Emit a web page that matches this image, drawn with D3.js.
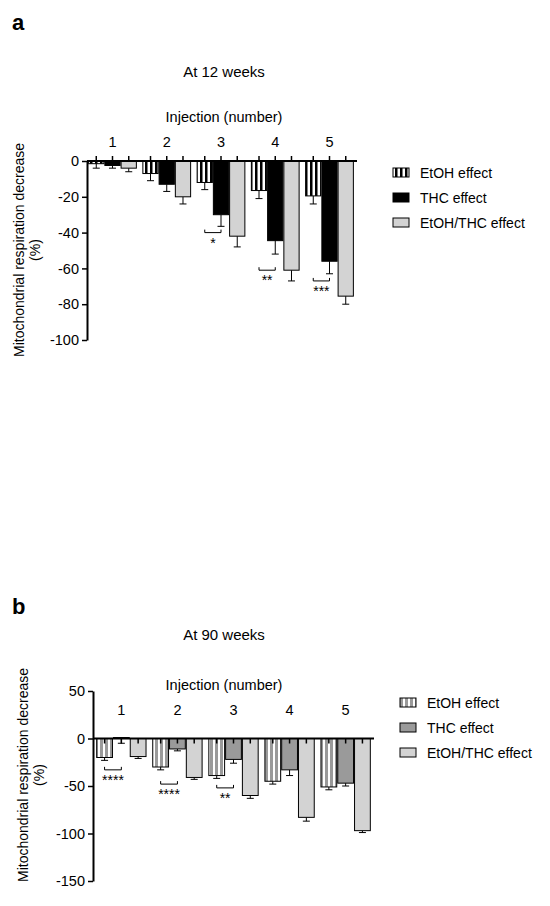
<!DOCTYPE html><html><head><meta charset="utf-8"><script src="https://cdn.jsdelivr.net/npm/d3@7"></script>
<style>body{margin:0;background:#fff}text{font-family:Arial,"Liberation Sans",sans-serif}</style></head><body>
<script>
const injections=["1","2","3","4","5"];
const seriesNames=["EtOH effect","THC effect","EtOH/THC effect"];
const a_etoh=[-1.5,-7,-12,-16.5,-19.5], a_etohErr=[-4,-11,-16,-21,-24];
const a_thc=[-2.5,-13,-30,-44.5,-56], a_thcErr=[-4,-17,-36.5,-52,-63];
const a_combo=[-4,-20,-42,-61,-75.5], a_comboErr=[-6,-24,-48,-67,-80];
const a_yTicks=[0,-20,-40,-60,-80,-100];
const a_sig=[{g:2,label:"*",y:-40},{g:3,label:"**",y:-61},{g:4,label:"***",y:-67}];
const b_etoh=[-20,-30,-39,-45,-51], b_etohErr=[-23,-33,-42,-48,-54];
const b_thc=[1,-11,-22,-33,-47], b_thcErr=[-5,-13,-26,-39,-50];
const b_combo=[-19,-41,-60,-83,-97], b_comboErr=[-21,-43,-63,-87,-99];
const b_yTicks=[50,0,-50,-100,-150];
const b_sig=[{g:0,label:"****",y:-33},{g:1,label:"****",y:-48},{g:2,label:"**",y:-52}];

const svg=d3.select("body").append("svg").attr("width",550).attr("height",906);
const defs=svg.append("defs");
const p1=defs.append("pattern").attr("id","pA").attr("patternUnits","userSpaceOnUse").attr("width",5).attr("height",5);
p1.append("rect").attr("width",5).attr("height",5).attr("fill","#fff");
p1.append("rect").attr("width",2.5).attr("height",5).attr("fill","#000");
const p2=defs.append("pattern").attr("id","pB").attr("patternUnits","userSpaceOnUse").attr("width",5).attr("height",5);
p2.append("rect").attr("width",5).attr("height",5).attr("fill","#fff");
p2.append("rect").attr("width",3).attr("height",5).attr("fill","#9a9a9a");

function panel(o){
  const g=svg.append("g");
  g.append("text").attr("x",12).attr("y",o.letterY).attr("font-size",22).attr("font-weight","bold").text(o.letter);
  g.append("text").attr("x",o.cx).attr("y",o.titleY).attr("text-anchor","middle").attr("font-size",15).text(o.title);
  g.append("text").attr("x",o.cx).attr("y",o.injY).attr("text-anchor","middle").attr("font-size",14.5).text("Injection (number)");
  const y=d3.scaleLinear().domain(o.dom).range(o.rng);
  const xg=d3.scaleBand().domain(injections).range([o.x0,o.x1]).paddingInner(0.12).paddingOuter(0.03);
  const xs=d3.scaleBand().domain(d3.range(3)).range([0,xg.bandwidth()]).paddingInner(0.06);
  const ya=g.append("g").attr("transform",`translate(${o.ax},0)`).call(d3.axisLeft(y).tickValues(o.ticks).tickFormat(d=>String(d)).tickSize(5).tickSizeOuter(0));
  ya.select(".domain").attr("stroke-width",2);ya.selectAll(".tick line").attr("stroke-width",1.5);
  ya.selectAll("text").attr("font-size",14.5).attr("fill","#000").attr("font-family","Arial,'Liberation Sans',sans-serif");
  const yl=g.append("text").attr("transform",`translate(${o.ylx},${o.yly}) rotate(-90)`).attr("text-anchor","middle").attr("font-size",14);
  yl.append("tspan").attr("x",0).attr("dy",0).text("Mitochondrial respiration decrease");
  yl.append("tspan").attr("x",0).attr("dy",16).text("(%)");
  const vals=[o.v[0],o.v[1],o.v[2]], errs=[o.e[0],o.e[1],o.e[2]];
  injections.forEach((inj,i)=>{
    g.append("text").attr("x",xg(inj)+xg.bandwidth()/2).attr("y",o.numY).attr("text-anchor","middle").attr("font-size",14.5).text(inj);
    for(let s=0;s<3;s++){
      const v=vals[s][i],e=errs[s][i];
      const bx=xg(inj)+xs(s),bw=xs.bandwidth(),cx=bx+bw/2;
      g.append("line").attr("x1",cx).attr("x2",cx).attr("y1",y(Math.min(0,v))).attr("y2",y(e)).attr("stroke","#000").attr("stroke-width",1);
      g.append("line").attr("x1",cx-3.5).attr("x2",cx+3.5).attr("y1",y(e)).attr("y2",y(e)).attr("stroke","#000").attr("stroke-width",1);
      g.append("rect").attr("x",bx).attr("width",bw).attr("y",y(Math.max(0,v))).attr("height",Math.abs(y(v)-y(0)))
        .attr("fill",o.fills[s]).attr("stroke","#000").attr("stroke-width",1);
      g.append("line").attr("x1",cx).attr("x2",cx).attr("y1",y(0)).attr("y2",y(0)+o.tickDir*5).attr("stroke","#000").attr("stroke-width",1.5);
    }
  });
  g.append("line").attr("x1",o.ax).attr("x2",o.x1+2).attr("y1",y(0)).attr("y2",y(0)).attr("stroke","#000").attr("stroke-width",2);
  o.sig.forEach(sg=>{
    const inj=injections[sg.g];
    const xa=xg(inj)+xs(0)+xs.bandwidth()/2, xb=xg(inj)+xs(1)+xs.bandwidth()/2, yy=y(sg.y);
    g.append("path").attr("d",`M${xa},${yy-3}V${yy}H${xb}V${yy-3}`).attr("fill","none").attr("stroke","#000").attr("stroke-width",1);
    g.append("text").attr("x",(xa+xb)/2).attr("y",yy+15).attr("text-anchor","middle").attr("font-size",14).text(sg.label);
  });
  seriesNames.forEach((n,s)=>{
    const ly=o.legY+s*25;
    g.append("rect").attr("x",o.legX).attr("y",ly-5).attr("width",16).attr("height",9).attr("fill",o.fills[s]).attr("stroke","#000").attr("stroke-width",1);
    g.append("text").attr("x",o.legX+27).attr("y",ly+5).attr("font-size",14).text(n);
  });
}
panel({letter:"a",letterY:30,title:"At 12 weeks",titleY:77,injY:122,numY:147,cx:224,
  dom:[0,-100],rng:[161,340],x0:87,x1:355,ax:87,ticks:a_yTicks,ylx:24,yly:250,
  v:[a_etoh,a_thc,a_combo],e:[a_etohErr,a_thcErr,a_comboErr],fills:["url(#pA)","#000","#d3d3d3"],
  tickDir:-1,sig:a_sig,legX:393,legY:173});
panel({letter:"b",letterY:614,title:"At 90 weeks",titleY:640,injY:690,numY:715,cx:224,
  dom:[50,-150],rng:[691,881],x0:95,x1:372,ax:93,ticks:b_yTicks,ylx:28,yly:775,
  v:[b_etoh,b_thc,b_combo],e:[b_etohErr,b_thcErr,b_comboErr],fills:["url(#pB)","#9a9a9a","#d3d3d3"],
  tickDir:1,sig:b_sig,legX:400,legY:703});
</script></body></html>
